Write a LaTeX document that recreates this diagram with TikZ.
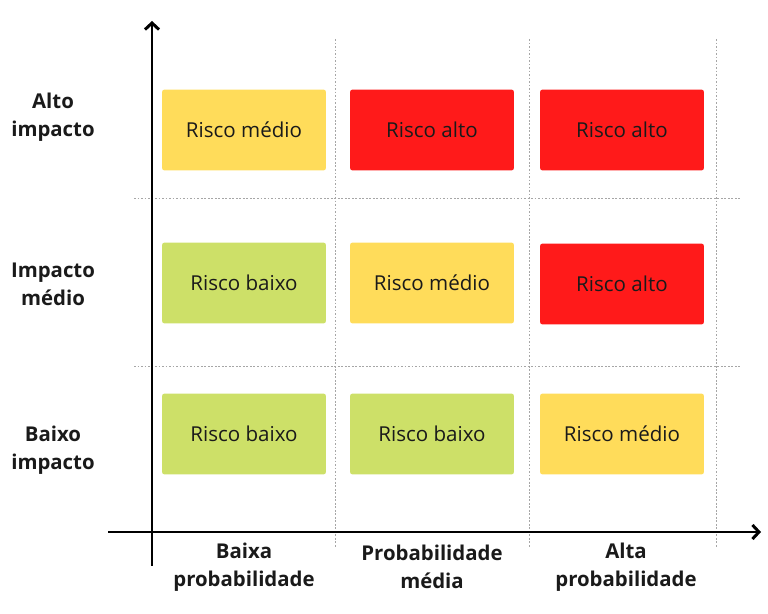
\documentclass[tikz,border=0pt]{standalone}
\usepackage{fontspec}
\setmainfont{Open Sans}
\usetikzlibrary{arrows.meta}
\definecolor{riskhigh}{HTML}{FF1A1A}
\definecolor{riskmid}{HTML}{FFDC5A}
\definecolor{risklow}{HTML}{CDE068}
\definecolor{inktext}{HTML}{1A1A1A}

\begin{document}
\begin{tikzpicture}[x=0.02cm, y=-0.02cm,
  every node/.style={font=\fontsize{11.7}{14}\selectfont, text=inktext},
  cell/.style={rounded corners=1.5pt, minimum width=3.28cm, minimum height=1.62cm, inner sep=0pt},
  axislabel/.style={font=\bfseries\fontsize{11.6}{16}\selectfont, align=center},
  gridline/.style={gray!70, line width=0.4pt, dash pattern=on 1pt off 1pt},
  axis/.style={line width=1.7pt, -{Straight Barb[length=1.3mm, width=2.8mm]}}]
  \useasboundingbox (0,0) rectangle (768,614);
  % column separators
  \foreach \gx in {335, 529, 716}
    \draw[gridline] (\gx, 39) -- (\gx, 548);
  % row separators
  \foreach \gy in {198, 366}
    \draw[gridline] (134, \gy) -- (741, \gy);
  % axes
  \coordinate (yfoot) at (152, 566);
  \coordinate (ytip) at (152, 21);
  \coordinate (xfoot) at (108, 532);
  \coordinate (xtip) at (761, 532);
  \draw[axis] (yfoot) -- (ytip);
  \draw[axis] (xfoot) -- (xtip);
  % high impact row
  \node[cell, fill=riskmid] (highlow) at (244, 130) {Risco médio};
  \node[cell, fill=riskhigh] (highmid) at (432, 130) {Risco alto};
  \node[cell, fill=riskhigh] (highhigh) at (622, 130) {Risco alto};
  % medium impact row
  \node[cell, fill=risklow] (midlow) at (244, 283) {Risco baixo};
  \node[cell, fill=riskmid] (midmid) at (432, 283) {Risco médio};
  \node[cell, fill=riskhigh] (midhigh) at (622, 284) {Risco alto};
  % low impact row
  \node[cell, fill=risklow] (lowlow) at (244, 434) {Risco baixo};
  \node[cell, fill=risklow] (lowmid) at (432, 434) {Risco baixo};
  \node[cell, fill=riskmid] (lowhigh) at (622, 434) {Risco médio};
  % impact labels
  \node[axislabel] (impacthigh) at (53, 117) {Alto\\impacto};
  \node[axislabel] (impactmid) at (53, 284) {Impacto\\médio};
  \node[axislabel] (impactlow) at (53, 450) {Baixo\\impacto};
  % probability labels
  \node[axislabel] (problow) at (244, 567) {Baixa\\probabilidade};
  \node[axislabel] (probmid) at (432, 567) {Probabilidade\\média};
  \node[axislabel] (probhigh) at (626, 567) {Alta\\probabilidade};
\end{tikzpicture}
\end{document}
